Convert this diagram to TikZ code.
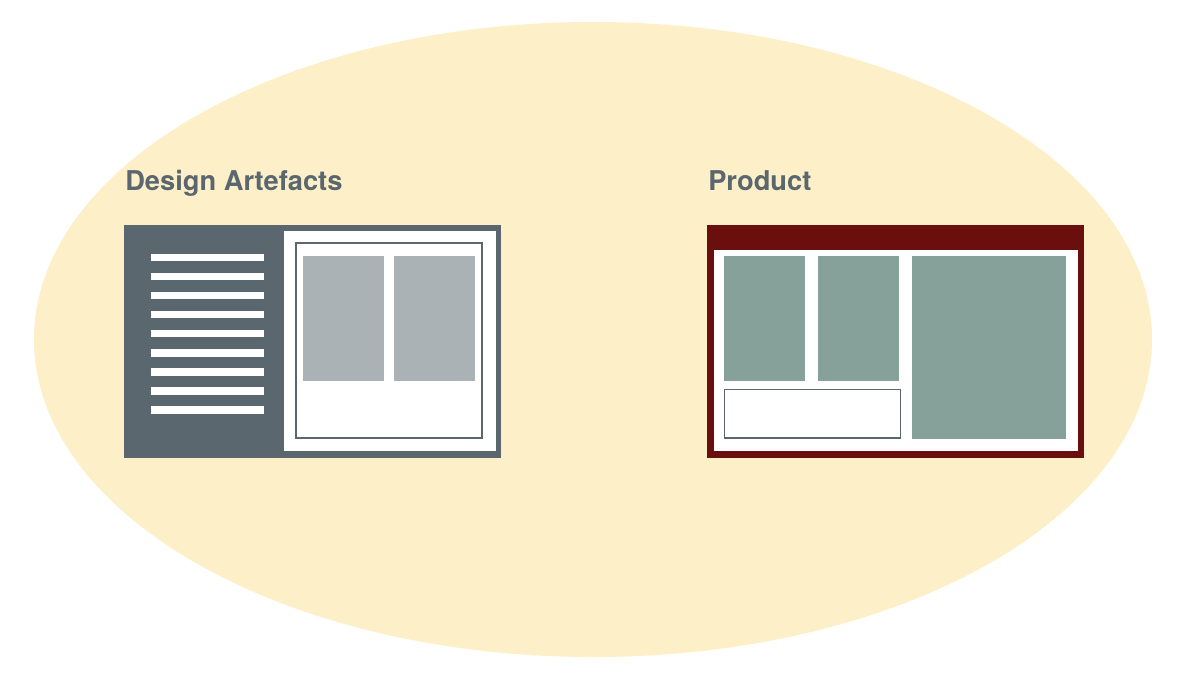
\documentclass[tikz,border=0pt]{standalone}
\usepackage{fontspec}
\setmainfont{TeX Gyre Heros}
\usepackage{xcolor}
\usepackage{tikz}
\usetikzlibrary{positioning}
\definecolor{cream}{HTML}{FDF0C8}
\definecolor{slate}{HTML}{5B676E}
\definecolor{ashgray}{HTML}{ABB2B5}
\definecolor{sage}{HTML}{86A09A}
\definecolor{maroon}{HTML}{6A0E0E}
\tikzset{
  heading/.style={anchor=base west,inner sep=0pt,text=slate,font=\bfseries\fontsize{19.4}{23}\selectfont},
  frame/.style={draw=slate,line width=1.3pt,fill=white},
}

\begin{document}
\begin{tikzpicture}[x=0.025cm,y=-0.025cm]
\useasboundingbox (0,0) rectangle (1200,686);
\fill[white] (0,0) rectangle (1200,686);
\fill[cream] (593,339.5) ellipse [x radius=559,y radius=317.5];
% design artefacts
\node[heading] (artefacts) at (125,190.5) {Design Artefacts};
\fill[slate] (124,225) rectangle (501,458);
\fill[white] (283.5,231) rectangle (495.5,451);
\draw[frame] (296,243) rectangle (482,438);
\fill[ashgray] (302.5,255.5) rectangle (383.5,380.5);
\fill[ashgray] (393.5,255.5) rectangle (474.5,380.5);
\foreach \i in {0,...,8}
  \fill[white] (151,253.5+19.1*\i) rectangle (263.5,261+19.1*\i);
% product
\node[heading] (product) at (708,190.5) {Product};
\fill[maroon] (707,224.5) rectangle (1084,458);
\fill[white] (713.5,249.5) rectangle (1077.5,451);
\fill[sage] (723.5,255.5) rectangle (804.5,380.5);
\fill[sage] (818,255.5) rectangle (898.5,380.5);
\fill[sage] (912,255.5) rectangle (1065.5,438.5);
\draw[frame] (724.5,389.5) rectangle (900.5,438);
\end{tikzpicture}
\end{document}
